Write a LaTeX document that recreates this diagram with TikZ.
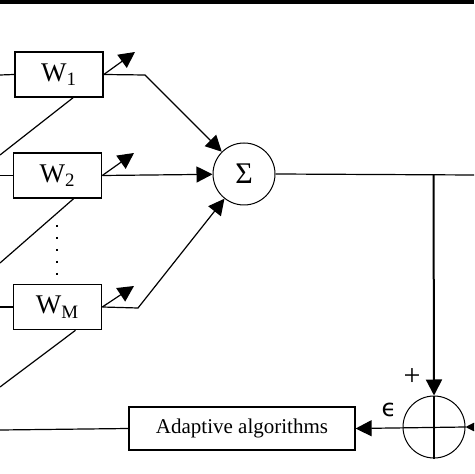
\documentclass[tikz,border=0pt]{standalone}
\usepackage{fontspec}
\setmainfont{Liberation Serif}
\newfontfamily\epsfont{DejaVu Sans}
\usetikzlibrary{arrows.meta}

\begin{document}
\begin{tikzpicture}[x=0.5pt,y=-0.5pt,line width=0.6pt,
	wbox/.style={draw,line width=0.8pt,minimum width=44pt,minimum height=22.5pt,inner sep=0pt,font=\fontsize{13.5}{15}\selectfont},
	algbox/.style={draw,line width=0.6pt,minimum width=113pt,minimum height=21.5pt,inner sep=0pt,font=\fontsize{10.5}{12}\selectfont},
	adder/.style={draw,circle,line width=0.5pt,minimum size=31pt,inner sep=0pt},
	arr/.style={-{Triangle[length=8pt,width=8pt]}},
	tune/.style={-{Triangle[length=8pt,width=8pt]}}]

    \clip (0,0) rectangle (474,474);
    \fill[white] (0,0) rectangle (474,474);
    \fill[black] (0,0) rectangle (474,4.5);

    % weights
    \node[wbox] (w1) at (59,74.5) {W\textsubscript{1}};
    \node[wbox] (w2) at (57.5,175.5) {W\textsubscript{2}};
    \node[wbox] (wM) at (57.5,307) {W\textsubscript{M}};
    \node[adder,font=\fontsize{15}{16}\selectfont] (sum) at (244,174) {Σ};
    \node[adder] (err) at (434,427) {};
    \node[algbox] (alg) at (242,428.5) {Adaptive algorithms};
    \node (plus) at (412,377) {\fontsize{15}{16}\selectfont +};
    \node (eps) at (389,410) {\epsfont\fontsize{12}{14}\selectfont ϵ};

    \coordinate (x1) at (0,75);
    \coordinate (x2) at (0,175.5);
    \coordinate (xM) at (0,307);
    \coordinate (l1) at (0,155);
    \coordinate (l2) at (0,263);
    \coordinate (lM) at (0,387);
    \coordinate (b1) at (145,75);
    \coordinate (bM) at (138,308);
    \coordinate (t1) at (135,52);
    \coordinate (t2) at (134,153);
    \coordinate (tM) at (134,286);
    \coordinate (j) at (433.5,175);
    \coordinate (out) at (474,175);
    \coordinate (d) at (494,427);
    \coordinate (xa) at (0,430);

    \draw (x1) -- (w1.west);
    \draw (x2) -- (w2.west);
    \draw (xM) -- (wM.west);
    \draw ([xshift=7pt]w1.south) -- (l1);
    \draw ([xshift=8pt]w2.south) -- (l2);
    \draw ([xshift=9pt]wM.south) -- (lM);
    \draw[dash pattern=on 1pt off 5pt,line width=1pt] (57,225) -- (57,278);

    \draw[arr] (w1.east) -- (b1) -- (sum);
    \draw[arr] (w2.east) -- (sum);
    \draw[arr] (wM.east) -- (bM) -- (sum);
    \draw[tune] (w1.east) -- (t1);
    \draw[tune] (w2.east) -- (t2);
    \draw[tune] (wM.east) -- (tM);

    \draw (sum.east) -- (out);
    \draw[arr,line width=1pt] (j) -- (err.north);
    \draw[line width=1pt] (err.north) -- (err.south);
    \draw[arr] (d) -- (err.east);
    \draw[arr] (err.east) -- (alg.east);
    \draw (alg.west) -- (xa);

\end{tikzpicture}
\end{document}
